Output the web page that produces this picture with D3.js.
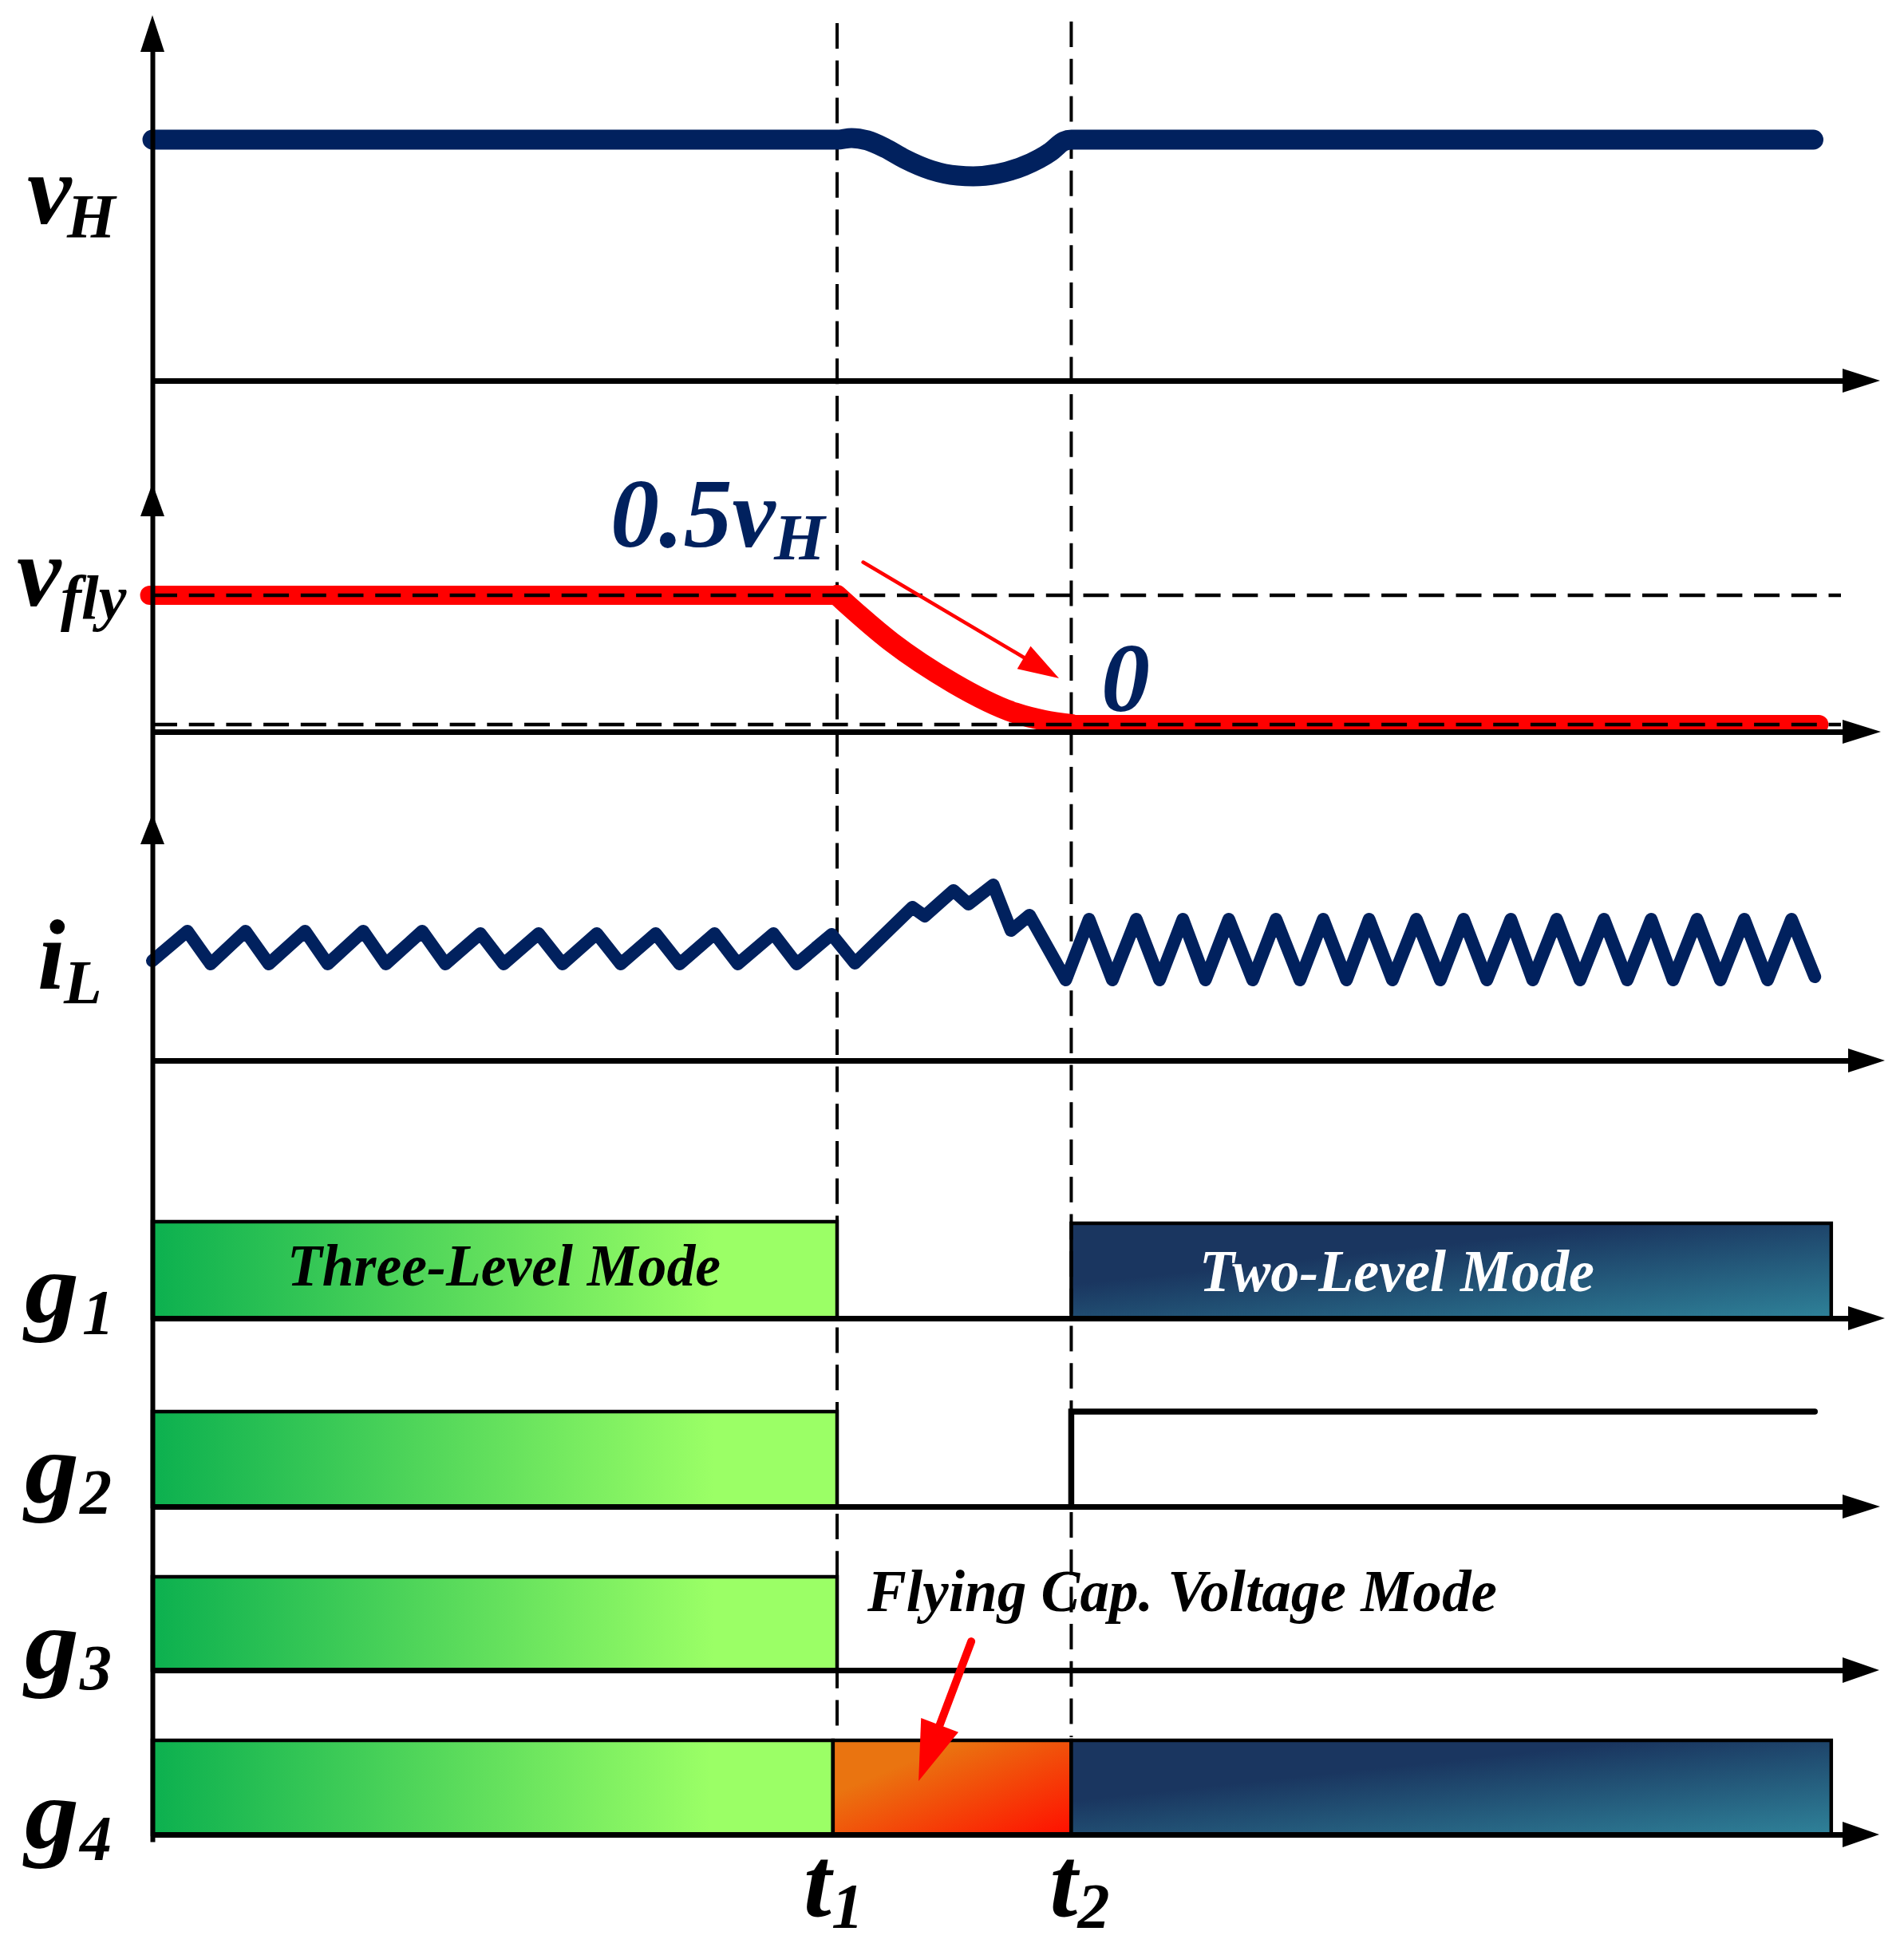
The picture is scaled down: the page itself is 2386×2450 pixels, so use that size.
<!DOCTYPE html>
<meta charset="utf-8">
<style>
  body { margin: 0; background: #fff; }
  text { font-family: "Liberation Serif", serif; font-style: italic; font-weight: bold; }
</style>

<!-- Load d3.js -->
<script src="https://d3js.org/d3.v7.min.js"></script>

<div id="my_dataviz"></div>

<script>

// switching instants (t1 is set to 100 time units)
const t1 = 100, t2 = 134.2;
const timeLabels = ["t", "t"];
const timeSubs = ["1", "2"];

// vH
const vHTime = [0, 100, 102.1, 104.4, 107.1, 109.8, 113.7, 117.6, 119.9, 123.4, 127.3, 131.2, 133.1, 134.2, 242.6];
const vHValue = [1, 1, 1.007, 0.997, 0.964, 0.921, 0.874, 0.851, 0.848, 0.858, 0.891, 0.950, 0.993, 1, 1];

// vfly: flat, falling part, flat
const vFlyTime = [-0.4, 100, 108, 117, 126, 134.2, 243.4];
const vFlyValue = [0.5, 0.5, 0.318, 0.160, 0.045, 0, 0];

// iL
const iLTime = [0, 5.1, 8.5, 13.6, 17.0, 22.3, 25.6, 30.8, 34.1, 39.4, 42.8, 47.9, 51.3, 56.4, 59.9, 64.9, 68.4, 73.5, 77.0,
  82.1, 85.5, 90.7, 94.1, 99.2, 102.6, 111.0, 112.8, 117.0, 119.2, 122.8, 125.4, 128.1, 133.4,
  136.8, 140.2, 143.7, 147.1, 150.5, 153.8, 157.2, 160.7, 164.1, 167.6, 171.0, 174.4, 177.7, 181.1, 184.6, 188.1,
  191.5, 194.9, 198.4, 201.6, 205.1, 208.5, 212.0, 215.4, 218.9, 222.1, 225.6, 229.0, 232.5, 235.9, 239.4, 242.8];
const iLValue = [12.5, 16.2, 12.1, 16.2, 12.1, 16.2, 12.1, 16.2, 12.1, 16.2, 12.1, 15.9, 12.1, 15.9, 12.1, 15.9, 12.1, 15.9, 12.1,
  15.9, 12.1, 15.9, 12.1, 15.8, 12.2, 19.2, 18.1, 21.3, 19.6, 22.0, 16.3, 18.2, 10.1,
  17.7, 10.1, 17.7, 10.1, 17.7, 10.1, 17.7, 10.1, 17.7, 10.1, 17.7, 10.1, 17.7, 10.1, 17.7, 10.1,
  17.7, 10.1, 17.7, 10.1, 17.7, 10.1, 17.7, 10.1, 17.7, 10.1, 17.7, 10.1, 17.7, 10.1, 17.7, 10.5];

// gate signals
const gateNames = ["1", "2", "3", "4"];
const threeLevelSpan = [0, 100];
const flyingSpan = [99.4, 134.2];
const twoLevelSpan = [134.2, 245.2];
const g2LineTime = [134.2, 134.2, 242.8];
const g2LineLevel = [0, 1, 1];

const modeLabels = ["Three-Level Mode", "Two-Level Mode", "Flying Cap. Voltage Mode"];

const navy = "#01215e";

// append the svg object to the body of the page
const svg = d3.select("#my_dataviz")
  .append("svg")
    .attr("width", 2386)
    .attr("height", 2450)
    .style("display", "block");

// gradients
const defs = svg.append("defs");
function gradient(id, v, stops) {
  const g = defs.append("linearGradient").attr("id", id)
    .attr("x1", v[0]).attr("y1", v[1]).attr("x2", v[2]).attr("y2", v[3]);
  stops.forEach(s => g.append("stop").attr("offset", s[0]).attr("stop-color", s[1]));
}
gradient("green", [0, 0, 1, 0], [[0, "#0cb04f"], [0.82, "#9bff66"]]);
gradient("blue", [0.4, 0.3, 1, 1], [[0, "#1a3660"], [1, "#2f8299"]]);
gradient("orange", [0.25, 0.3, 1, 1], [[0, "#ea7410"], [1, "#ff0f00"]]);

// scales
const x = d3.scaleLinear().domain([0, 100]).range([191, 1049]);
const yVH = d3.scaleLinear().domain([0, 1]).range([477, 175]);
const yFly = d3.scaleLinear().domain([0, 0.5]).range([908, 746]);
const yIL = d3.scaleLinear().domain([0, 25]).range([1329, 1079]);
const gateAxisY = [1652, 1888, 2093, 2299];
const gateTopY = [1533, 1769, 1976, 2181];
const yGate = gateAxisY.map((a, i) => d3.scaleLinear().domain([0, 1]).range([a, gateTopY[i]]));

// gate bars
function bar(span, row, fill, top) {
  const yTop = top === undefined ? yGate[row](1) : top;
  svg.append("rect")
    .attr("x", x(span[0]))
    .attr("y", yTop)
    .attr("width", x(span[1]) - x(span[0]))
    .attr("height", yGate[row](0) - yTop)
    .attr("fill", `url(#${fill})`)
    .attr("stroke", "#000")
    .attr("stroke-width", 4.5);
}
bar(threeLevelSpan, 0, "green", 1531);
[1, 2].forEach(r => bar(threeLevelSpan, r, "green"));
bar([threeLevelSpan[0], flyingSpan[0]], 3, "green");
bar(flyingSpan, 3, "orange");
bar(twoLevelSpan, 0, "blue");
bar(twoLevelSpan, 3, "blue");

// t1 and t2 dashed markers
[[t1, 29], [t2, 27]].forEach(d => {
  svg.append("line")
    .attr("x1", x(d[0])).attr("x2", x(d[0]))
    .attr("y1", d[1]).attr("y2", 2177)
    .attr("stroke", "#000").attr("stroke-width", 4)
    .attr("stroke-dasharray", "32 14.7");
});

// traces
const trace = (xs, ys, sx, sy, curve) => d3.line()
  .x(i => sx(xs[i])).y(i => sy(ys[i])).curve(curve)(d3.range(xs.length));

svg.append("path")
  .attr("d", trace(vHTime, vHValue, x, yVH, d3.curveMonotoneX))
  .attr("fill", "none").attr("stroke", navy).attr("stroke-width", 25).attr("stroke-linecap", "round");

// the corner at t1 is sharp, so the falling part gets its own curve
[[0, 2, d3.curveLinear, 24], [1, 6, d3.curveNatural, 26], [5, 7, d3.curveLinear, 24]].forEach(p => {
  svg.append("path")
    .attr("d", trace(vFlyTime.slice(p[0], p[1]), vFlyValue.slice(p[0], p[1]), x, yFly, p[2]))
    .attr("fill", "none").attr("stroke", "#ff0000").attr("stroke-width", p[3]).attr("stroke-linecap", "round");
});

[0.5, 0].forEach(v => {
  svg.append("line")
    .attr("x1", 190).attr("x2", 2307)
    .attr("y1", yFly(v)).attr("y2", yFly(v))
    .attr("stroke", "#000").attr("stroke-width", 4.5)
    .attr("stroke-dasharray", "32 14.7");
});

svg.append("path")
  .attr("d", trace(iLTime, iLValue, x, yIL, d3.curveLinear))
  .attr("fill", "none").attr("stroke", navy).attr("stroke-width", 16)
  .attr("stroke-linecap", "round").attr("stroke-linejoin", "round");

// g2 stays as a plain line after t2
svg.append("path")
  .attr("d", trace(g2LineTime, g2LineLevel, x, yGate[1], d3.curveLinear))
  .attr("fill", "none").attr("stroke", "#000").attr("stroke-width", 7.5).attr("stroke-linecap", "round");

// axes: [y, arrow base x, arrow tip x, half height]
const xAxes = [
  [477, 2309, 2356, 15],
  [917, 2309, 2357, 15],
  [1329, 2316, 2362, 15],
  [gateAxisY[0], 2316, 2362, 15],
  [gateAxisY[1], 2309, 2356, 15],
  [gateAxisY[2], 2309, 2355, 16],
  [gateAxisY[3], 2309, 2355, 16]
];
xAxes.forEach(a => {
  const s = d3.scaleLinear().domain([0, 1]).range([191, a[1] + 2]);
  const g = svg.append("g")
    .attr("transform", `translate(0,${a[0]})`)
    .call(d3.axisBottom(s).tickValues([]).tickSizeOuter(0));
  g.select(".domain").attr("stroke", "#000").attr("stroke-width", 7);
  svg.append("path")
    .attr("d", `M${a[1]},${a[0] - a[3]}L${a[2]},${a[0]}L${a[1]},${a[0] + a[3]}Z`)
    .attr("fill", "#000");
});

const yAxisScale = d3.scaleLinear().domain([0, 1]).range([2308, 40]);
svg.append("g")
  .attr("transform", "translate(191,0)")
  .call(d3.axisLeft(yAxisScale).tickValues([]).tickSizeOuter(0))
  .select(".domain").attr("stroke", "#000").attr("stroke-width", 6);

[[19, 65], [606, 647], [1020, 1058]].forEach(a => {
  svg.append("path")
    .attr("d", `M191,${a[0]}L206,${a[1]}L176,${a[1]}Z`)
    .attr("fill", "#000");
});

// red annotation arrows
function arrow(x0, y0, x1, y1, headLen, headWidth, w) {
  const len = Math.hypot(x1 - x0, y1 - y0);
  const ux = (x1 - x0) / len, uy = (y1 - y0) / len;
  const bx = x1 - ux * headLen, by = y1 - uy * headLen;
  svg.append("line")
    .attr("x1", x0).attr("y1", y0).attr("x2", bx).attr("y2", by)
    .attr("stroke", "#ff0000").attr("stroke-width", w).attr("stroke-linecap", "round");
  const hx = -uy * headWidth / 2, hy = ux * headWidth / 2;
  svg.append("path")
    .attr("d", `M${x1},${y1}L${bx + hx},${by + hy}L${bx - hx},${by - hy}Z`)
    .attr("fill", "#ff0000");
}
arrow(x(103.8), yFly(0.628), x(132.4), yFly(0.179), 51, 33, 4.5);
arrow(x(119.6), yGate[3](2.05), x(111.9), yGate[3](0.568), 75, 50, 10);

// text
function label(str, px, py, size, fill) {
  return svg.append("text")
    .attr("x", px).attr("y", py)
    .attr("font-size", size)
    .attr("fill", fill || "#000")
    .text(str);
}

label("v", 34, 280, 125);
label("H", 84, 297, 78);
label("v", 21, 759, 125);
label("fly", 76, 775, 78);
label("i", 47, 1239, 125);
label("L", 80, 1257, 78);

const gateBase = [1656, 1882, 2102, 2315];
const gateSubBase = [1672, 1897, 2117, 2331];
const gateSubX = [103, 100, 100, 100];
gateNames.forEach((n, i) => {
  label("g", 31, gateBase[i], 125)
    .attr("textLength", 68).attr("lengthAdjust", "spacingAndGlyphs");
  label(n, gateSubX[i], gateSubBase[i], 80);
});

label("0.5v", 765, 685, 122, navy);
label("H", 970, 701, 82, navy);
label("0", 1380, 891, 122, navy);

[t1, t2].forEach((t, i) => {
  label(timeLabels[i], x(t) - (i ? 27 : 42), 2401, 125);
  label(timeSubs[i], x(t) + (i ? 8 : -7), 2416, 80);
});

label(modeLabels[0], 360, 1611, 75)
  .attr("textLength", 543).attr("lengthAdjust", "spacingAndGlyphs");
label(modeLabels[1], 1503, 1618, 75, "#fff")
  .attr("textLength", 495).attr("lengthAdjust", "spacingAndGlyphs");
label(modeLabels[2], 1087, 2019, 75)
  .attr("textLength", 789).attr("lengthAdjust", "spacingAndGlyphs");

</script>
